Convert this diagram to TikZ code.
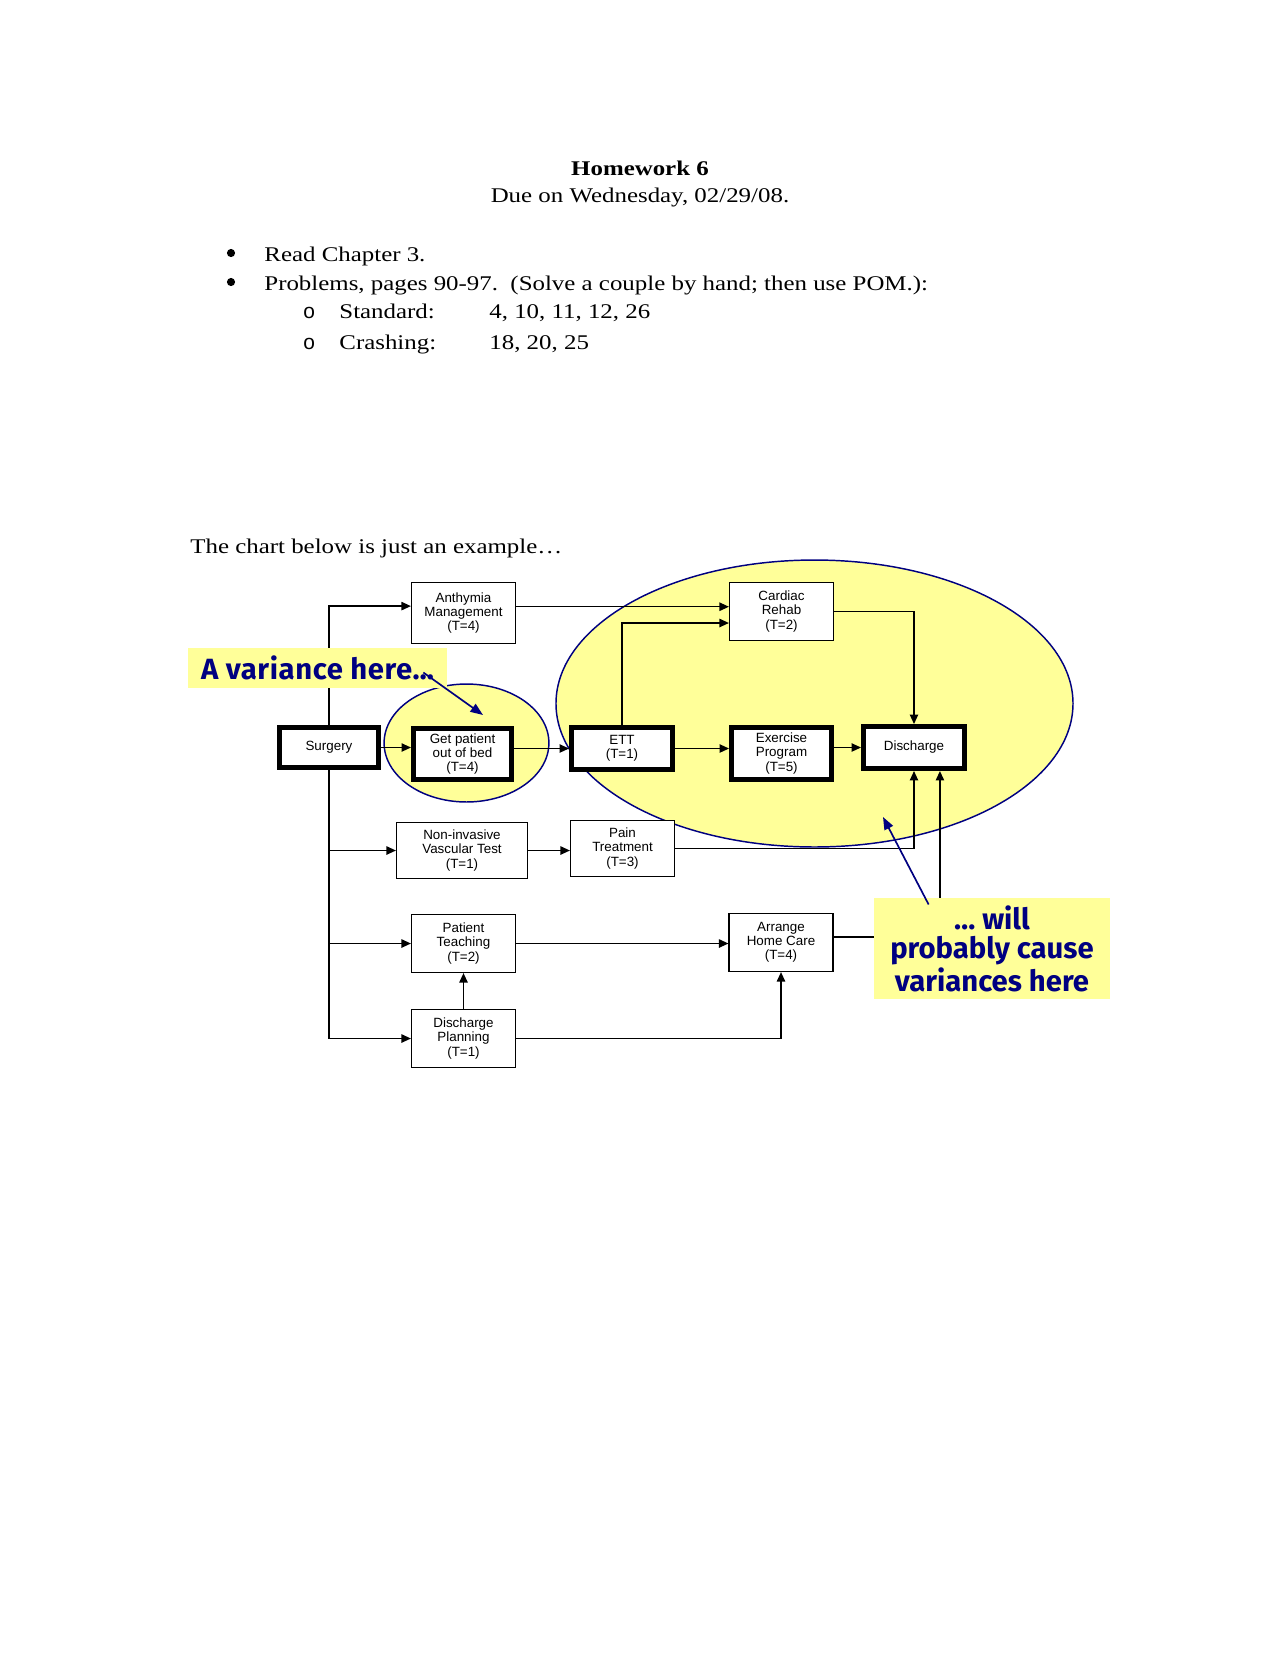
\documentclass[tikz,border=0pt]{standalone}
\usepackage{fontspec}
\setmainfont{Liberation Serif}[FakeStretch=1.19]
\setsansfont{Liberation Sans}
\newfontfamily\calloutfont{Fira Sans}
\newfontfamily\calloutwidefont{Fira Sans}[LetterSpace=2]
\usepackage{tikz}
\usetikzlibrary{arrows.meta}

\definecolor{noteyellow}{HTML}{FFFF99}
\definecolor{notenavy}{HTML}{000080}

\tikzset{
  task/.style={draw, fill=white, line width=0.6pt, inner sep=0pt, align=center,
    minimum width=49.7pt, minimum height=27.7pt,
    font=\sffamily\fontsize{6.4}{6.8}\selectfont},
  crittask/.style={task, line width=2.4pt},
  flow/.style={-{Triangle[length=4.5pt,width=4pt]}, line width=0.6pt},
  bubble/.style={draw=notenavy, fill=noteyellow, line width=0.7pt},
  note/.style={fill=noteyellow, text=notenavy, inner sep=0pt, align=center,
    font=\calloutfont\bfseries\fontsize{14}{14.1}\selectfont},
  pointer/.style={-{Triangle[length=6pt,width=4.5pt]}, draw=notenavy, line width=0.8pt},
  txt/.style={inner sep=0pt, anchor=base west},
  listdot/.style={circle, fill, inner sep=0pt, minimum size=3.9pt},
}

\begin{document}
\begin{tikzpicture}[x=0.478125pt, y=-0.478125pt]
    \useasboundingbox (0,0) rectangle (1280,1656);

    % header text
    \node[txt, anchor=base] (title) at (640,175) {\textbf{Homework 6}};
    \node[txt, anchor=base] (due) at (640,202) {Due on Wednesday, 02/29/08.};
    \node[listdot] (dot1) at (231,253) {};
    \node[txt] (read) at (264,261) {Read Chapter 3.};
    \node[listdot] (dot2) at (231,282) {};
    \node[txt] (probs) at (264,290) {Problems, pages 90-97.\ \ (Solve a couple by hand; then use POM.):};
    \node[txt] (sub1) at (303,318) {\sffamily o};
    \node[txt] (std) at (339,318) {Standard:};
    \node[txt] (stdnum) at (489,318) {4, 10, 11, 12, 26};
    \node[txt] (sub2) at (303,349) {\sffamily o};
    \node[txt] (crash) at (339,349) {Crashing:};
    \node[txt] (crashnum) at (489,349) {18, 20, 25};
    \node[txt] (intro) at (190,553) {The chart below is just an example\dots};

    % yellow ellipses
    \draw[bubble] (814.5,703.5) ellipse [x radius=123.6pt, y radius=68.6pt];
    \draw[bubble] (466.5,743) ellipse [x radius=39.4pt, y radius=28.2pt];

    % draw tasks
    \node[task, minimum height=29.2pt] (arrh) at (463.5,613) {Anthymia\\Management\\(T=4)};
    \node[task] (cardiac) at (781.5,611.5) {Cardiac\\Rehab\\(T=2)};
    \node[crittask, minimum width=47.3pt, minimum height=19.1pt] (surgery) at (329,747.5) {Surgery};
    \node[crittask, minimum width=46.9pt, minimum height=24.4pt] (getup) at (462.5,754) {Get patient\\out of bed\\(T=4)};
    \node[crittask, minimum width=48.3pt, minimum height=20.1pt] (ett) at (622,748.5) {ETT\\(T=1)};
    \node[crittask, minimum width=47.8pt, minimum height=24.9pt] (exer) at (781.5,753.5) {Exercise\\Program\\(T=5)};
    \node[crittask, minimum width=48.3pt, minimum height=20.1pt] (disch) at (914,747.5) {Discharge};
    \node[task, minimum width=62.6pt, minimum height=26.8pt] (nivt) at (462,850.5) {Non-invasive\\Vascular Test\\(T=1)};
    \node[task, minimum height=26.8pt] (pain) at (622.5,848.5) {Pain\\Treatment\\(T=3)};
    \node[task] (teach) at (463.5,943.5) {Patient\\Teaching\\(T=2)};
    \node[task] (home) at (781,942.5) {Arrange\\Home Care\\(T=4)};
    \node[task] (plan) at (463.5,1038.5) {Discharge\\Planning\\(T=1)};

    % draw connectors from surgery
    \draw[flow] (surgery.north) |- ([yshift=3.3pt]arrh.west);
    \draw[flow] (surgery.south) |- (nivt.west);
    \draw[flow] (surgery.south) |- (teach.west);
    \draw[flow] (surgery.south) |- (plan.west);
    \draw[flow] (surgery.east) -- (surgery.east -| getup.west);

    % main row
    \draw[flow] (getup.east |- ett) -- (ett.west);
    \draw[flow] (ett.east) -- (ett.east -| exer.west);
    \draw[flow] (exer.east |- disch) -- (disch.west);

    % upper branch
    \draw[flow] ([yshift=3pt]arrh.east) -- ([yshift=3pt]arrh.east -| cardiac.west);
    \draw[flow] (ett.north) |- ([yshift=-5.5pt]cardiac.west);
    \draw[flow] (cardiac.east) -| (disch.north);

    % lower branches
    \draw[flow] (nivt.east) -- (nivt.east -| pain.west);
    \draw[flow] (pain.east) -| (disch.south);
    \draw[flow] (teach.east) -- (teach.east -| home.west);
    \draw[flow] (plan) -- (teach);
    \draw[flow] (plan.east) -| (home.south);
    \draw[flow] ([yshift=2.6pt]home.east) -| ([xshift=12.4pt]disch.south);

    % callouts
    \node[note, minimum width=123.8pt, minimum height=19.1pt] (varA) at (317.5,668) {\calloutwidefont A variance here\dots};
    \node[note, minimum width=112.8pt, minimum height=48.3pt] (varB) at (992,948.5) {\dots\ will\\probably cause\\variances here};
    \coordinate (tipA) at (483,715);
    \coordinate (tipB) at (883,817);
    \draw[pointer] ([xshift=-11.5pt,yshift=7.6pt]varA.south east) -- (tipA);
    \draw[pointer] ([xshift=26.3pt,yshift=-3.3pt]varB.north west) -- (tipB);

\end{tikzpicture}
\end{document}
